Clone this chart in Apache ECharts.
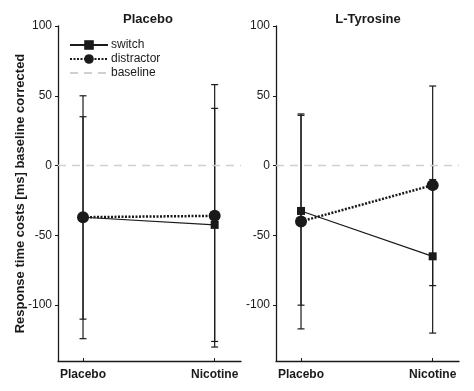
<!DOCTYPE html>
<html><head><meta charset="utf-8">
<script src="https://cdn.jsdelivr.net/npm/echarts@6/dist/echarts.min.js"></script>
<style>html,body{margin:0;padding:0;background:#fff}#c{width:474px;height:391px}</style>
</head><body><div id="c"></div>
<script>
const categories = ['Placebo', 'Nicotine'];
const panelTitles = ['Placebo', 'L-Tyrosine'];
const yTicks = [-100, -50, 0, 50, 100];
// Placebo panel
const switchPlacebo = [-37, -42.5];
const switchPlaceboLow = [-110, -126];
const switchPlaceboHigh = [35, 41];
const distractorPlacebo = [-37, -36];
const distractorPlaceboLow = [-124, -130];
const distractorPlaceboHigh = [50, 58];
// L-Tyrosine panel
const switchTyrosine = [-32.5, -65];
const switchTyrosineLow = [-100, -120];
const switchTyrosineHigh = [37, -10];
const distractorTyrosine = [-40, -14];
const distractorTyrosineLow = [-117, -86];
const distractorTyrosineHigh = [36, 57];

const font = 'Liberation Sans, Arial, sans-serif';
const ink = '#1a1a1a';
const chart = echarts.init(document.getElementById('c'));

function pts(vals){ return vals.map((v,i)=>[i,v]); }
function errData(lo,hi){ return lo.map((l,i)=>[i,l,hi[i]]); }
function errSeries(idx, lo, hi){
  return {
    type:'custom', xAxisIndex:idx, yAxisIndex:idx, silent:true, z:1,
    encode:{x:0, y:[1,2]},
    data: errData(lo,hi),
    renderItem(params, api){
      const x=api.value(0);
      const a=api.coord([x, api.value(1)]);
      const b=api.coord([x, api.value(2)]);
      const w=3.5;
      const st={stroke:ink, lineWidth:1.2};
      return {type:'group', children:[
        {type:'line', shape:{x1:a[0],y1:a[1],x2:b[0],y2:b[1]}, style:st},
        {type:'line', shape:{x1:a[0]-w,y1:a[1],x2:a[0]+w,y2:a[1]}, style:st},
        {type:'line', shape:{x1:b[0]-w,y1:b[1],x2:b[0]+w,y2:b[1]}, style:st}
      ]};
    }
  };
}
function switchSeries(idx, vals){
  return {name:'switch', type:'line', xAxisIndex:idx, yAxisIndex:idx, z:3,
    data: pts(vals), symbol:'rect', symbolSize:8,
    lineStyle:{color:ink, width:1.2, type:'solid'}, itemStyle:{color:ink}};
}
function distSeries(idx, vals){
  return {name:'distractor', type:'line', xAxisIndex:idx, yAxisIndex:idx, z:4,
    data: pts(vals), symbol:'circle', symbolSize:12,
    lineStyle:{color:ink, width:2.5, type:[2,1.5]}, itemStyle:{color:ink}};
}
function baseSeries(idx){
  return {name:'baseline', type:'line', xAxisIndex:idx, yAxisIndex:idx, z:0,
    data: [], symbol:'none', lineStyle:{color:'#d0d0d0', width:1.3, type:[8,6]},
    itemStyle:{color:'#d0d0d0'},
    markLine:{silent:true, symbol:'none', label:{show:false},
      lineStyle:{color:'#d0d0d0', width:1.3, type:[8,6]}, data:[{yAxis:0}]}};
}

const gridLefts = [58, 276];
const titleShift = [85, 87];
const option = {
  animation:false,
  textStyle:{fontFamily:font},
  title: panelTitles.map((t,i)=>({text:t, left:gridLefts[i]+titleShift[i], top:8, textAlign:'center',
    textStyle:{fontFamily:font, fontSize:13, fontWeight:'bold', color:ink}})),
  legend:{data:['switch','distractor',{name:'baseline', itemStyle:{opacity:0}}],
    orient:'vertical', left:64, top:34,
    itemWidth:38, itemHeight:12, itemGap:2,
    textStyle:{fontFamily:font, fontSize:12, color:ink, padding:[0,0,0,-2]}},
  grid: gridLefts.map(l=>({left:l, top:26, width:183, height:335})),
  xAxis: [0,1].map(i=>({type:'value', gridIndex:i, min:-0.19, max:1.2,
    axisLine:{show:true, onZero:false, lineStyle:{color:ink, width:1.3}},
    axisTick:{show:true, inside:true, length:3, customValues:[0,1], lineStyle:{color:ink}},
    axisLabel:{customValues:[0,1], formatter:v=>categories[Math.round(v)],
      fontFamily:font, fontSize:12, fontWeight:'bold', color:ink, margin:8},
    splitLine:{show:false}})),
  yAxis: [0,1].map(i=>({type:'value', gridIndex:i, min:-140, max:100,
    name: i===0 ? 'Response time costs [ms] baseline corrected' : '',
    nameLocation:'middle', nameGap:31, nameRotate:90, nameMoveOverlap:false,
    nameTextStyle:{fontFamily:font, fontSize:13, fontWeight:'bold', color:ink},
    axisLine:{show:true, onZero:false, lineStyle:{color:ink, width:1.3}},
    axisTick:{show:true, length:3, customValues:yTicks, lineStyle:{color:ink}},
    axisLabel:{customValues:yTicks, fontFamily:font, fontSize:12, color:ink, margin:6},
    splitLine:{show:false}})),
  series:[
    baseSeries(0), baseSeries(1),
    errSeries(0, switchPlaceboLow, switchPlaceboHigh),
    errSeries(0, distractorPlaceboLow, distractorPlaceboHigh),
    errSeries(1, switchTyrosineLow, switchTyrosineHigh),
    errSeries(1, distractorTyrosineLow, distractorTyrosineHigh),
    switchSeries(0, switchPlacebo), distSeries(0, distractorPlacebo),
    switchSeries(1, switchTyrosine), distSeries(1, distractorTyrosine)
  ]
};
chart.setOption(option);
</script></body></html>
